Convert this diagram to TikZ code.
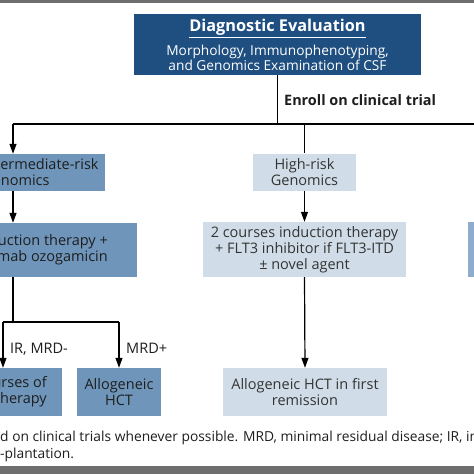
\documentclass[tikz,border=0pt]{standalone}
\usepackage{fontspec}
\setmainfont{Open Sans}
\usetikzlibrary{arrows.meta}
\definecolor{dkblue}{HTML}{1F4F80}
\definecolor{mdblue}{HTML}{6F96BA}
\definecolor{rtblue}{HTML}{8EACCB}
\definecolor{ltblue}{HTML}{D0DDE8}
\definecolor{barg}{HTML}{6E6E6E}
\definecolor{txtd}{HTML}{1E1E1E}
\definecolor{txtl}{HTML}{333333}
\begin{document}
\begin{tikzpicture}[x=1pt,y=-1pt,
  boxd/.style={fill=dkblue,draw=none,inner sep=0pt},
  boxm/.style={fill=mdblue,draw=none,inner sep=0pt,text=txtd,align=center,font=\fontsize{14.5}{16}\selectfont},
  boxl/.style={fill=ltblue,draw=none,inner sep=0pt,text=txtl,align=center,font=\fontsize{14.5}{16}\selectfont},
  lbl/.style={inner sep=0pt,text=txtd,font=\fontsize{14.5}{16}\selectfont},
  ln/.style={line width=1.2pt,draw=black},
  arr/.style={ln,-{Triangle[length=10pt,width=7pt]}}]
\useasboundingbox (0,0) rectangle (474,474);
\clip (0,0) rectangle (474,474);
\fill[white] (0,0) rectangle (474,474);
\fill[barg] (0,0) rectangle (474,3);
\fill[barg] (0,466) rectangle (474,474);
% top box
\node[boxd,minimum width=287pt,minimum height=61pt] (diag) at (277.5,44.5) {};
\node[inner sep=0pt,text=white,font=\fontsize{16.3}{16}\selectfont\bfseries,anchor=base] (title) at (277.5,31.5) {\underline{Diagnostic Evaluation}};
\node[inner sep=0pt,text=white,align=center,font=\fontsize{13.7}{13.5}\selectfont] (sub) at (277.5,58) {Morphology, Immunophenotyping,\\and Genomics Examination of CSF};
\node[lbl,anchor=west,font=\fontsize{14.4}{16}\selectfont\bfseries] (enroll) at (284,100) {Enroll on clinical trial};
% row 1
\node[boxm,minimum width=165pt,minimum height=37pt] (int) at (22.5,172.5) {};
\node[lbl,anchor=west,align=left] (intt) at (-18,172) {Intermediate-risk\\Genomics};
\node[boxl,minimum width=103pt,minimum height=37pt] (high) at (304.5,172) {High-risk\\Genomics};
% row 2
\node[boxm,minimum width=227pt,minimum height=54pt] (indl) at (23.5,250) {};
\node[lbl,anchor=east,align=right] (indlt) at (108,250) {2 courses induction therapy +\\gemtuzumab ozogamicin\hspace{13pt}};
\node[boxl,minimum width=203pt,minimum height=55pt] (indm) at (304.5,249.5) {2 courses induction therapy\\+ FLT3 inhibitor if FLT3-ITD\\± novel agent};
\node[boxm,fill=rtblue,minimum width=60pt,minimum height=55pt,anchor=north west] (indr) at (468,222) {};
% row 3
\node[boxm,minimum width=122pt,minimum height=48pt] (cb) at (1,392) {};
\node[lbl,anchor=east,align=right] (cbt) at (47,392) {2 courses of\\chemotherapy\hspace{2pt}};
\node[boxm,minimum width=84pt,minimum height=48pt] (allo) at (119,392) {Allogeneic\\HCT};
\node[boxl,minimum width=164pt,minimum height=48pt] (allof) at (305,392) {Allogeneic HCT in first\\remission};
% connectors
\coordinate (j) at (277.5,124);
\coordinate (hl) at (13,124);
\coordinate (hr) at (480,124);
\coordinate (s) at (13,322);
\coordinate (bl) at (3,322);
\coordinate (br) at (119,322);
\draw[ln] (diag.south) -- (j);
\draw[ln] (hl) -- (hr);
\draw[arr] (hl) -- (hl |- int.north);
\draw[ln] (high.north |- hl) -- (high.north);
\draw[arr] (int.south -| hl) -- (indl.north -| hl);
\draw[arr] (high.south) -- (indm.north);
\draw[ln] (indl.south -| s) -- (s);
\draw[ln] (bl) -- (br);
\draw[arr] (bl) -- (bl |- cb.north);
\draw[arr] (br) -- (allo.north);
\draw[arr] (indm.south) -- (allof.north);
\node[lbl,anchor=west] (irm) at (10,349) {IR, MRD-};
\node[lbl,anchor=west] (mrdp) at (126,348) {MRD+};
% footnote
\node[lbl,anchor=west,font=\fontsize{13.8}{16}\selectfont] (fn1) at (0,438) {\llap{Patients should be enrolle}d on clinical trials whenever possible. MRD, minimal residual disease; IR, intermediate risk;};
\node[lbl,anchor=west,font=\fontsize{13.8}{16}\selectfont] (fn2) at (0,455) {\llap{HCT, hematopoietic cell trans}-plantation.};
\end{tikzpicture}
\end{document}
